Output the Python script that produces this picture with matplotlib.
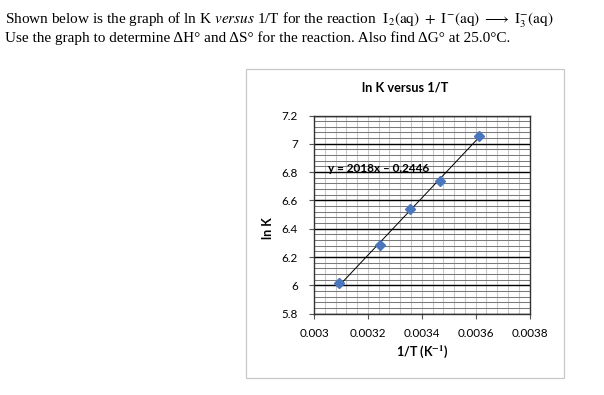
import matplotlib
matplotlib.use("Agg")
import matplotlib.pyplot as plt
from matplotlib.patches import Rectangle
import numpy as np

# ---- data ----
inv_T = [0.003094, 0.003246, 0.003357, 0.003469, 0.003614]
ln_K = [6.019, 6.285, 6.539, 6.737, 7.057]
slope = 2018.0
intercept = -0.2446
x_ticks = [0.003, 0.0032, 0.0034, 0.0036, 0.0038]
x_tick_labels = ["0.003", "0.0032", "0.0034", "0.0036", "0.0038"]
y_ticks = [5.8, 6.0, 6.2, 6.4, 6.6, 6.8, 7.0, 7.2]
y_tick_labels = ["5.8", "6", "6.2", "6.4", "6.6", "6.8", "7", "7.2"]
title = "ln K versus 1/T"
x_label = "1/T (K$^{\\mathbf{-1}}$)"
y_label = "ln K"
eq_label = "y = 2018x \u2013 0.2446"

plt.rcParams['mathtext.fontset'] = 'stix'

W, H = 604, 395
fig = plt.figure(figsize=(W / 100, H / 100), dpi=100)
fig.patch.set_facecolor("white")

# chart border
fig.add_artist(Rectangle((245.5 / W, 1 - 377.5 / H), (563.5 - 245.5) / W, (377.5 - 68.5) / H,
                         transform=fig.transFigure, fill=False, edgecolor="#c8c8c8", linewidth=0.9))

# question text
serif = ['Liberation Serif', 'DejaVu Serif']
fig.text(5 / W, 1 - 20 / H,
         "Shown below is the graph of ln K $\\mathit{versus}$ 1/T for the reaction  "
         "$\\mathrm{I_2(aq)\\ +\\ I^{-}(aq)\\ \\longrightarrow\\ I_3^{-}(aq)}$",
         family=serif, fontsize=11, va="center", ha="left")
fig.text(5 / W, 1 - 38 / H,
         "Use the graph to determine \u0394H\u00b0 and \u0394S\u00b0 for the reaction. Also find \u0394G\u00b0 at 25.0\u00b0C.",
         family=serif, fontsize=11, va="center", ha="left")

ax = fig.add_axes([314 / W, 1 - 313.7 / H, (529.5 - 314) / W, (313.7 - 115.5) / H])
ax.set_xlim(0.003, 0.0038)
ax.set_ylim(5.8, 7.2)

# gridlines
for v in np.arange(5.84, 7.2, 0.04):
    ax.axhline(v, color="#7a7a7a", linewidth=0.75, zorder=1)
for v in y_ticks:
    ax.axhline(v, color="black", linewidth=1.0, zorder=1.2)
for v in np.arange(0.00304, 0.0038, 0.00004):
    ax.axvline(v, color="#c8c8c8", linewidth=0.75, zorder=0.8)

# trendline
xs = np.array([inv_T[0], inv_T[-1]])
ax.plot(xs, slope * xs + intercept, color="black", linewidth=0.7, zorder=3)
ax.plot(inv_T, ln_K, linestyle="none", marker="D", markersize=4.8,
        color="#4a76be", markeredgecolor="#4a76be", zorder=4)

ax.text(0.003052, 6.824, eq_label, fontsize=8.5, fontweight="bold", family="Lato",
        va="center", ha="left", zorder=5)

ax.set_xticks(x_ticks)
ax.set_xticklabels(x_tick_labels)
ax.set_yticks(y_ticks)
ax.set_yticklabels(y_tick_labels)
for lab in ax.get_xticklabels() + ax.get_yticklabels():
    lab.set_family("Lato")
    lab.set_fontsize(8.4)
ax.tick_params(direction="out", length=3.5, width=0.8, color="#555555", pad=7)
ax.tick_params(axis="y", pad=8)
for s in ax.spines.values():
    s.set_color("#333333")
    s.set_linewidth(1.0)

fig.text(405 / W, 1 - 88 / H, title, family="Lato", fontweight="bold", fontsize=9.2,
         ha="center", va="center")
fig.text(422 / W, 1 - 352 / H, x_label, family="Lato", fontweight="bold", fontsize=9,
         ha="center", va="center")
fig.text(268 / W, 1 - 228 / H, y_label, family="Lato", fontweight="bold", fontsize=9,
         ha="center", va="center", rotation=90)

fig.savefig("out.png", dpi=100)
